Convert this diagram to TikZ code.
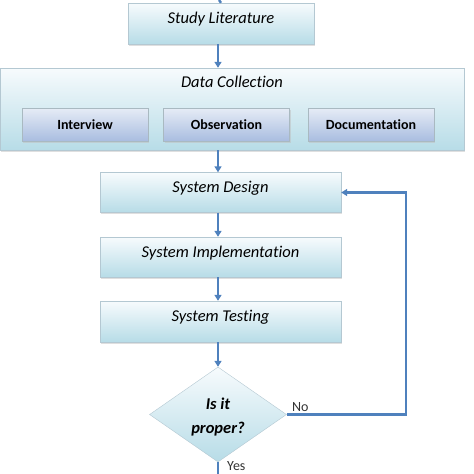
\documentclass[tikz,border=0pt]{standalone}
\usepackage{fontspec}
\setmainfont{Carlito}[Ligatures={NoCommon}]
\usetikzlibrary{shapes.geometric,arrows.meta,shadows}

\definecolor{flowline}{HTML}{4F81BD}
\definecolor{boxtop}{HTML}{F7FBFD}
\definecolor{boxbot}{HTML}{B7DCE7}
\definecolor{boxedge}{HTML}{B4C8D2}
\definecolor{subtop}{HTML}{E6ECF6}
\definecolor{subbot}{HTML}{A9BDE0}
\definecolor{labelgray}{HTML}{333333}

\tikzset{
    box/.style={draw=boxedge, top color=boxtop, bottom color=boxbot,
        drop shadow={shadow xshift=1pt, shadow yshift=-1.5pt, fill=black!25},
        minimum width=241pt, minimum height=40pt, inner sep=0pt, text depth=11pt,
        font=\fontsize{16.5}{18}\selectfont\itshape},
    subbox/.style={draw=boxedge!80!gray, top color=subtop, bottom color=subbot,
        drop shadow={shadow xshift=1pt, shadow yshift=-1.5pt, fill=black!25},
        minimum width=126pt, minimum height=33pt, inner sep=0pt,
        font=\fontsize{14}{16}\selectfont\bfseries},
    decision/.style={diamond, draw=boxedge, top color=boxtop, bottom color=boxbot,
        aspect=1.44, minimum width=137pt, minimum height=95pt, inner sep=0pt,
        align=center, font=\fontsize{16.5}{24}\selectfont\itshape\bfseries},
    arrow/.style={draw=flowline, line width=2.4pt, -{Triangle[width=7pt,length=6pt]}},
    flow/.style={draw=flowline, line width=2.4pt},
    answer/.style={font=\fontsize{14}{16}\selectfont, text=labelgray, inner sep=1pt}
}

\begin{document}
\begin{tikzpicture}[x=1pt,y=-1pt]
    \useasboundingbox (0,0) rectangle (474,474);
    % steps
    \node[box, minimum width=186pt, minimum height=41pt] (study) at (221,23.5) {Study Literature};
    \node[box, minimum width=464pt, minimum height=82pt,
        label={[anchor=north, yshift=-5pt, font=\fontsize{16.5}{18}\selectfont\itshape]north:Data Collection}]
        (datacoll) at (232,109) {};
    \node[subbox] (interview) at (85,124.5) {Interview};
    \node[subbox] (observation) at (226.5,124.5) {Observation};
    \node[subbox] (documentation) at (371,124.5) {Documentation};
    \node[box] (design) at (220.5,192.5) {System Design};
    \node[box] (implement) at (220.5,257) {System Implementation};
    \node[box, minimum height=41pt] (testing) at (220.5,321.5) {System Testing};
    \node[decision] (proper) at (218,414.5) {\strut Is it\\proper?};
    \coordinate (start) at (219,0);
    \coordinate (finish) at (218,474);
    % connectors
    \draw[flow] (start) -- (study.north);
    \draw[arrow] (study.south -| 218,0) -- (datacoll.north -| 218,0);
    \draw[arrow] (datacoll.south -| 218,0) -- (design.north -| 218,0);
    \draw[arrow] (design.south -| 218,0) -- (implement.north -| 218,0);
    \draw[arrow] (implement.south -| 218,0) -- (testing.north -| 218,0);
    \draw[arrow] (testing.south -| 218,0) -- (proper.north);
    \draw[arrow] (proper.east) -- ++(119,0) |- (design.east);
    \draw[flow] (proper.south) -- (finish);
    % labels
    \node[answer, anchor=south west] (nolabel) at (291,413) {No};
    \node[answer, anchor=west] (yeslabel) at (226,466) {Yes};
\end{tikzpicture}
\end{document}
